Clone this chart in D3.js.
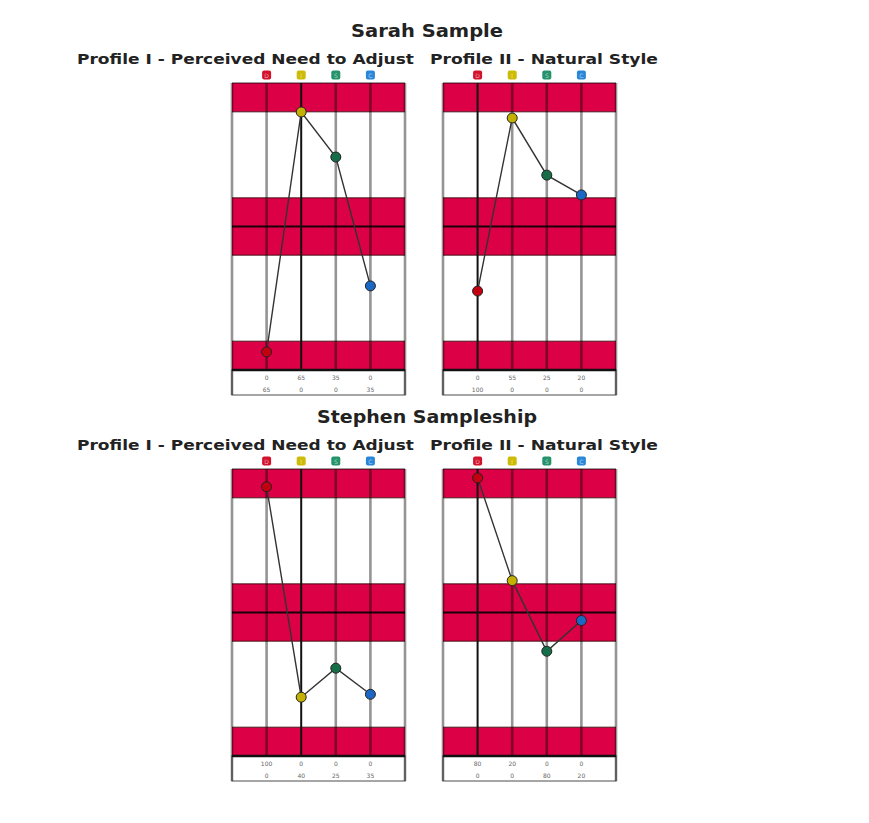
<!DOCTYPE html>
<html>
<head>
<meta charset="utf-8">
<script src="https://cdn.jsdelivr.net/npm/d3@7"></script>
<style>
  body { margin: 0; background: #fff; }
  svg { display: block; }
  .title { font-family: "DejaVu Sans", Verdana, sans-serif; font-weight: bold; fill: #222; }
  .num { font-family: "DejaVu Sans", sans-serif; font-size: 6px; fill: #666; }
</style>
</head>
<body>
<div id="chart"></div>
<script>
// names and panel titles
var people = ["Sarah Sample", "Stephen Sampleship"];
var profileTitles = ["Profile I - Perceived Need to Adjust", "Profile II - Natural Style"];
var factors = ["D", "I", "S", "C"];
var factorColors = ["#d3122c", "#cdbb05", "#22936a", "#2a86d8"];
var dotColors = ["#c20010", "#c4b000", "#166e48", "#1a68c4"];

// plotted position of each factor (0 = bottom, 100 = top of the plot)
var sarahProfile1 = [6.3, 89.9, 74.2, 29.3];
var sarahProfile2 = [27.5, 87.8, 67.9, 61.0];
var stephenProfile1 = [93.8, 20.5, 30.6, 21.5];
var stephenProfile2 = [96.9, 61.1, 36.5, 47.2];

// counts printed under each column
var sarahP1Top = [0, 65, 35, 0], sarahP1Bottom = [65, 0, 0, 35];
var sarahP2Top = [0, 55, 25, 20], sarahP2Bottom = [100, 0, 0, 0];
var stephenP1Top = [100, 0, 0, 0], stephenP1Bottom = [0, 40, 25, 35];
var stephenP2Top = [80, 20, 0, 0], stephenP2Bottom = [0, 0, 80, 20];

// column drawn with the dark line in each panel
var sarahHighlight = [1, 0];
var stephenHighlight = [1, 0];

// shaded zones and middle line on the 0-100 scale
var bands = [[0, 10], [40, 60], [90, 100]];
var midLine = 50;

var width = 869, height = 823;
var svg = d3.select("#chart").append("svg")
    .attr("width", width)
    .attr("height", height);

var panels = [
    { person: 0, profile: 0, values: sarahProfile1, top: sarahP1Top, bottom: sarahP1Bottom, hi: sarahHighlight[0] },
    { person: 0, profile: 1, values: sarahProfile2, top: sarahP2Top, bottom: sarahP2Bottom, hi: sarahHighlight[1] },
    { person: 1, profile: 0, values: stephenProfile1, top: stephenP1Top, bottom: stephenP1Bottom, hi: stephenHighlight[0] },
    { person: 1, profile: 1, values: stephenProfile2, top: stephenP2Top, bottom: stephenP2Bottom, hi: stephenHighlight[1] }
];

var groupOffset = 386;       // vertical distance between the two people
var plotTop = 83, plotBottom = 370, boxBottom = 395;
var panelLeft = [232, 443], panelWidth = 173;

// person titles
people.forEach(function (name, i) {
    svg.append("text")
        .attr("class", "title")
        .attr("x", 427)
        .attr("y", 37 + i * groupOffset)
        .attr("text-anchor", "middle")
        .attr("font-size", 17)
        .attr("textLength", i == 0 ? 152 : 220)
        .attr("lengthAdjust", "spacingAndGlyphs")
        .text(name);

    svg.append("text")
        .attr("class", "title")
        .attr("x", 77)
        .attr("y", 64 + i * groupOffset)
        .attr("font-size", 14.5)
        .attr("textLength", 337)
        .attr("lengthAdjust", "spacingAndGlyphs")
        .text(profileTitles[0]);

    svg.append("text")
        .attr("class", "title")
        .attr("x", 430)
        .attr("y", 64 + i * groupOffset)
        .attr("font-size", 14.5)
        .attr("textLength", 228)
        .attr("lengthAdjust", "spacingAndGlyphs")
        .text(profileTitles[1]);
});

panels.forEach(function (p) {
    var dy = p.person * groupOffset;
    var x0 = panelLeft[p.profile];
    var g = svg.append("g").attr("transform", "translate(0," + dy + ")");

    var x = d3.scaleLinear().domain([0, 5]).range([x0, x0 + panelWidth]);
    var y = d3.scaleLinear().domain([0, 100]).range([plotBottom, plotTop]);

    // number box under the plot
    g.append("rect")
        .attr("x", x(0)).attr("y", plotBottom)
        .attr("width", x(5) - x(0)).attr("height", boxBottom - plotBottom)
        .attr("fill", "#fff")
        .attr("stroke", "#888").attr("stroke-width", 1.5);

    // shaded bands
    g.selectAll("rect.band")
        .data(bands)
        .enter().append("rect")
        .attr("class", "band")
        .attr("x", x(0))
        .attr("y", function (d) { return y(d[1]); })
        .attr("width", x(5) - x(0))
        .attr("height", function (d) { return y(d[0]) - y(d[1]); })
        .attr("fill", "#dc0046");

    // band edges
    var edges = [];
    bands.forEach(function (b) { edges.push(b[0], b[1]); });
    g.selectAll("line.edge")
        .data(edges.filter(function (v) { return v > 0 && v < 100; }))
        .enter().append("line")
        .attr("x1", x(0)).attr("x2", x(5))
        .attr("y1", function (d) { return y(d); })
        .attr("y2", function (d) { return y(d); })
        .attr("stroke", "rgba(40,0,0,0.55)")
        .attr("stroke-width", 1.5);

    g.append("line")
        .attr("x1", x(0)).attr("x2", x(5))
        .attr("y1", y(midLine)).attr("y2", y(midLine))
        .attr("stroke", "#1a0008").attr("stroke-width", 2);

    // column lines
    g.selectAll("line.col")
        .data(d3.range(0, 6))
        .enter().append("line")
        .attr("x1", function (d) { return x(d); })
        .attr("x2", function (d) { return x(d); })
        .attr("y1", y(100))
        .attr("y2", function (d) { return (d == 0 || d == 5) ? boxBottom : y(0); })
        .attr("stroke", function (d) { return d == p.hi + 1 ? "#111" : "rgba(0,0,0,0.42)"; })
        .attr("stroke-width", function (d) { return d == p.hi + 1 ? 2 : 2.6; });

    // top border and thick bottom line
    g.append("line")
        .attr("x1", x(0)).attr("x2", x(5))
        .attr("y1", y(100)).attr("y2", y(100))
        .attr("stroke", "rgba(0,0,0,0.5)").attr("stroke-width", 1.5);
    g.append("line")
        .attr("x1", x(0)).attr("x2", x(5))
        .attr("y1", y(0)).attr("y2", y(0))
        .attr("stroke", "#111").attr("stroke-width", 2.5);

    // factor keys above the columns
    var keys = g.selectAll("g.key")
        .data(factors)
        .enter().append("g")
        .attr("transform", function (d, i) { return "translate(" + x(i + 1) + "," + (plotTop - 8) + ")"; });
    keys.append("rect")
        .attr("x", -4.5).attr("y", -4.5)
        .attr("width", 9).attr("height", 9)
        .attr("rx", 2)
        .attr("fill", function (d, i) { return factorColors[i]; });
    keys.append("text")
        .attr("text-anchor", "middle")
        .attr("y", 2.5)
        .attr("font-family", "DejaVu Sans, sans-serif")
        .attr("font-size", 6)
        .attr("fill", "rgba(255,255,255,0.6)")
        .text(function (d) { return d; });

    // connecting line and dots
    var line = d3.line()
        .x(function (d, i) { return x(i + 1); })
        .y(function (d) { return y(d); });
    g.append("path")
        .attr("d", line(p.values))
        .attr("fill", "none")
        .attr("stroke", "#333")
        .attr("stroke-width", 1.4);

    g.selectAll("circle.dot")
        .data(p.values)
        .enter().append("circle")
        .attr("cx", function (d, i) { return x(i + 1); })
        .attr("cy", function (d) { return y(d); })
        .attr("r", 5)
        .attr("fill", function (d, i) { return dotColors[i]; })
        .attr("stroke", "#222")
        .attr("stroke-width", 1);

    // counts
    [p.top, p.bottom].forEach(function (row, r) {
        g.selectAll(null)
            .data(row)
            .enter().append("text")
            .attr("class", "num")
            .attr("x", function (d, i) { return x(i + 1); })
            .attr("y", plotBottom + 10 + r * 12)
            .attr("text-anchor", "middle")
            .text(function (d) { return d; });
    });
});
</script>
</body>
</html>
